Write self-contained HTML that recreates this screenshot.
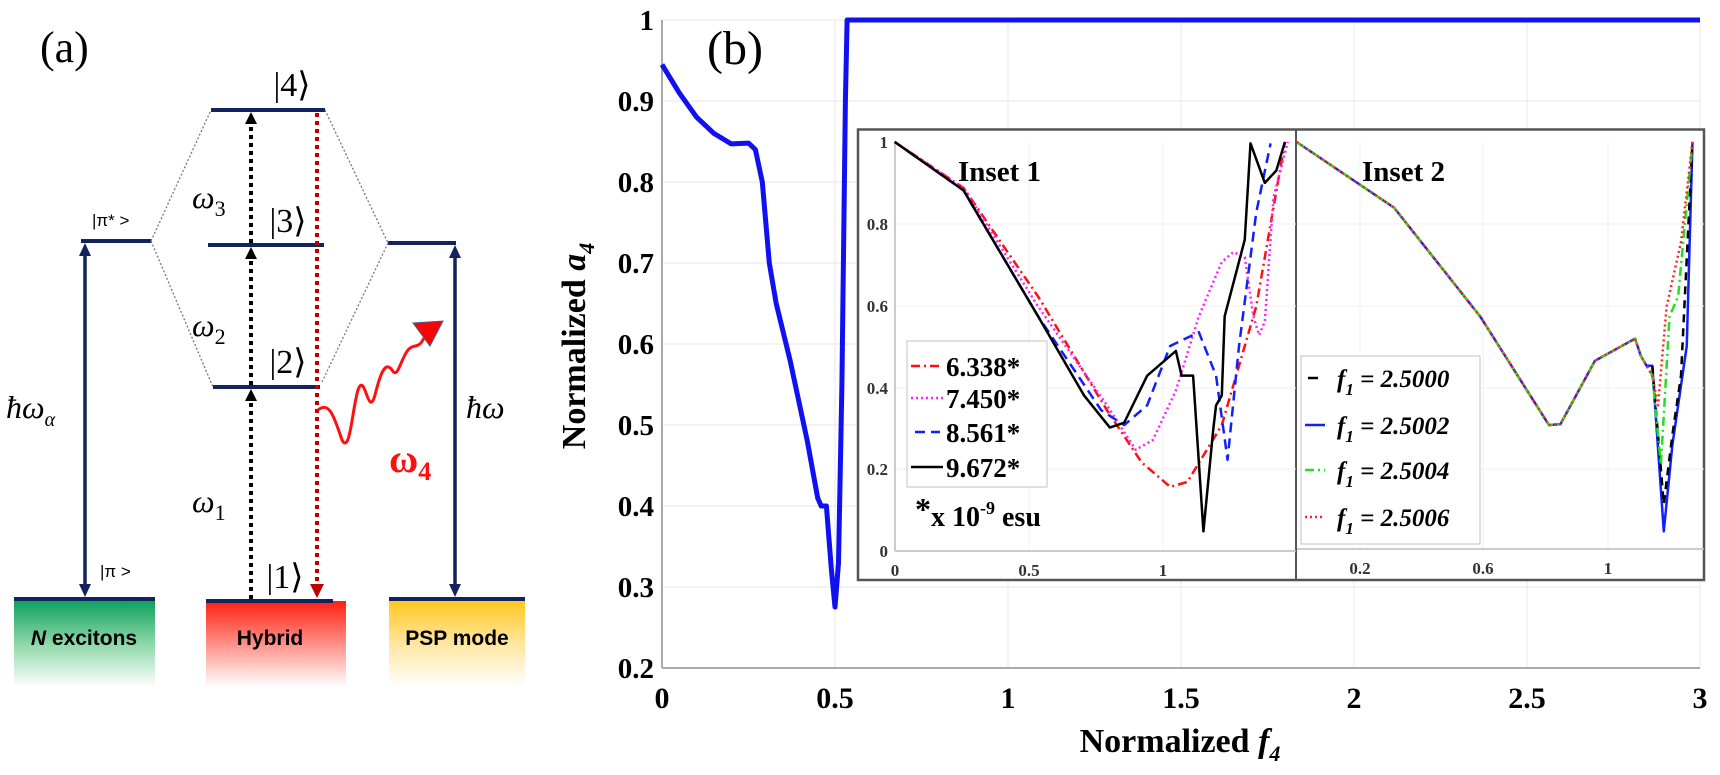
<!DOCTYPE html>
<html><head><meta charset="utf-8"><style>
html,body{margin:0;padding:0;background:#fff;}
svg{display:block;}
.s{font-family:"Liberation Serif",serif;}
.b{font-family:"Liberation Serif",serif;font-weight:bold;}
</style></head><body>
<svg width="1720" height="775" viewBox="0 0 1720 775" xmlns="http://www.w3.org/2000/svg">
<defs>
<linearGradient id="gg" x1="0" y1="0" x2="0" y2="1"><stop offset="0" stop-color="#10a060"/><stop offset="0.5" stop-color="#8ed8a8"/><stop offset="1" stop-color="#fff"/></linearGradient>
<linearGradient id="rg" x1="0" y1="0" x2="0" y2="1"><stop offset="0" stop-color="#ff2010"/><stop offset="0.5" stop-color="#ff9088"/><stop offset="1" stop-color="#fff"/></linearGradient>
<linearGradient id="yg" x1="0" y1="0" x2="0" y2="1"><stop offset="0" stop-color="#ffc820"/><stop offset="0.5" stop-color="#ffe6a0"/><stop offset="1" stop-color="#fff"/></linearGradient>
</defs>

<text x="40" y="62" class="s" font-size="44">(a)</text>
<rect x="14" y="601" width="141" height="86" fill="url(#gg)"/>
<rect x="206" y="601" width="140" height="86" fill="url(#rg)"/>
<rect x="389" y="601" width="136" height="86" fill="url(#yg)"/>
<text x="84" y="645" text-anchor="middle" font-family="Liberation Sans,sans-serif" font-weight="bold" font-size="21"><tspan font-style="italic">N</tspan> excitons</text>
<text x="270" y="645" text-anchor="middle" font-family="Liberation Sans,sans-serif" font-weight="bold" font-size="21">Hybrid</text>
<text x="457" y="645" text-anchor="middle" font-family="Liberation Sans,sans-serif" font-weight="bold" font-size="21">PSP mode</text>

<g stroke="#13235e" stroke-width="4">
<line x1="14" y1="599" x2="155" y2="599"/>
<line x1="206" y1="601" x2="333" y2="601"/>
<line x1="389" y1="599" x2="525" y2="599"/>
<line x1="81" y1="241" x2="151" y2="241"/>
<line x1="388" y1="243" x2="456" y2="243"/>
<line x1="211" y1="110" x2="325" y2="110"/>
<line x1="208" y1="245" x2="324" y2="245"/>
<line x1="213" y1="387" x2="320" y2="387"/>
</g>
<g stroke="#777" stroke-width="1.3" stroke-dasharray="2,2" fill="none">
<line x1="151" y1="241" x2="211" y2="110"/>
<line x1="151" y1="241" x2="213" y2="387"/>
<line x1="325" y1="110" x2="388" y2="243"/>
<line x1="388" y1="243" x2="322" y2="382"/>
</g>
<g stroke="#13235e" stroke-width="3.5" fill="#13235e">
<line x1="85" y1="252" x2="85" y2="588"/>
<line x1="455" y1="254" x2="455" y2="588"/>
</g>
<g fill="#13235e">
<polygon points="85,243 79,256 91,256"/><polygon points="85,597 79,584 91,584"/>
<polygon points="455,245 449,258 461,258"/><polygon points="455,597 449,584 461,584"/>
</g>
<g stroke="#000" stroke-width="4" stroke-dasharray="4,4">
<line x1="251" y1="599" x2="251" y2="400"/>
<line x1="251" y1="385" x2="251" y2="258"/>
<line x1="251" y1="243" x2="251" y2="122"/>
</g>
<g fill="#000">
<polygon points="251,389 245,401 257,401"/><polygon points="251,247 245,259 257,259"/><polygon points="251,112 245,124 257,124"/>
</g>
<line x1="317" y1="113" x2="317" y2="582" stroke="#c00000" stroke-width="4" stroke-dasharray="4,4"/>
<polygon points="317,598 310,584 324,584" fill="#c00000"/>
<path d="M318,410 C330,400 335,420 342,440 C350,455 352,410 358,390 C365,370 368,420 375,395 C380,375 385,360 392,370 C398,380 400,360 408,350 C414,343 418,350 424,338" stroke="#ff1010" stroke-width="3" fill="none"/>
<polygon points="413,323 443,321 430,346" fill="#ff0000" stroke="#4060a0" stroke-width="1"/>
<text x="389" y="472" class="b" font-size="40" fill="#ff1010">ω<tspan font-size="26" dy="8">4</tspan></text>
<g class="s" font-size="34" text-anchor="middle">
<text x="292" y="96">|4⟩</text>
<text x="288" y="232">|3⟩</text>
<text x="288" y="373">|2⟩</text>
<text x="285" y="588">|1⟩</text>
</g>
<g class="s" font-size="32" font-style="italic">
<text x="192" y="208">ω<tspan font-size="22" dy="8" font-style="normal">3</tspan></text>
<text x="192" y="336">ω<tspan font-size="22" dy="8" font-style="normal">2</tspan></text>
<text x="192" y="512">ω<tspan font-size="22" dy="8" font-style="normal">1</tspan></text>
<text x="6" y="418">ħω<tspan font-size="20" dy="8">α</tspan></text>
<text x="466" y="418">ħω</text>
</g>
<text x="92" y="226" font-family="Liberation Sans,sans-serif" font-size="17">|π* &gt;</text>
<text x="100" y="577" font-family="Liberation Sans,sans-serif" font-size="17">|π &gt;</text>

<g stroke="#ececec" stroke-width="1.2">
<line x1="662" y1="101" x2="1700" y2="101"/><line x1="662" y1="182" x2="1700" y2="182"/>
<line x1="662" y1="263" x2="1700" y2="263"/><line x1="662" y1="344" x2="1700" y2="344"/>
<line x1="662" y1="425" x2="1700" y2="425"/><line x1="662" y1="506" x2="1700" y2="506"/>
<line x1="662" y1="587" x2="1700" y2="587"/><line x1="662" y1="20" x2="1700" y2="20"/>
<line x1="835" y1="20" x2="835" y2="668"/><line x1="1008" y1="20" x2="1008" y2="668"/>
<line x1="1181" y1="20" x2="1181" y2="668"/><line x1="1354" y1="20" x2="1354" y2="668"/>
<line x1="1527" y1="20" x2="1527" y2="668"/><line x1="1700" y1="20" x2="1700" y2="668"/>
</g>
<g stroke="#aaa" stroke-width="2"><line x1="662" y1="20" x2="662" y2="668"/><line x1="662" y1="668" x2="1700" y2="668"/></g>
<g class="b" font-size="29" text-anchor="end">
<text x="654" y="30">1</text><text x="654" y="111">0.9</text><text x="654" y="192">0.8</text>
<text x="654" y="273">0.7</text><text x="654" y="354">0.6</text><text x="654" y="435">0.5</text>
<text x="654" y="516">0.4</text><text x="654" y="597">0.3</text><text x="654" y="678">0.2</text>
</g>
<g class="b" font-size="30" text-anchor="middle">
<text x="662" y="708">0</text><text x="835" y="708">0.5</text><text x="1008" y="708">1</text>
<text x="1181" y="708">1.5</text><text x="1354" y="708">2</text><text x="1527" y="708">2.5</text><text x="1700" y="708">3</text>
</g>
<text x="1180" y="752" class="b" font-size="34" text-anchor="middle">Normalized <tspan font-style="italic">f</tspan><tspan font-style="italic" font-size="22" dy="9">4</tspan></text>
<text transform="translate(585,346) rotate(-90)" class="b" font-size="34" text-anchor="middle">Normalized <tspan font-style="italic">a</tspan><tspan font-style="italic" font-size="22" dy="9">4</tspan></text>
<text x="707" y="64" class="s" font-size="48">(b)</text>
<polyline fill="none" stroke="#1010f0" stroke-width="5" stroke-linejoin="round" points="662,64.6 679.3,92.9 696.6,117.2 713.9,133.4 731.2,143.9 748.5,143.1 755.4,149.6 762.3,182 769.3,263 776.2,303.5 790,360 807.3,441 817.7,498 821.2,506 826.4,506 831.5,571 835,607 838.5,563 841.9,385 845.4,101 847.1,20 1700,20"/>

<rect x="858" y="129.5" width="846" height="450.5" fill="#fff" stroke="#555" stroke-width="2.5"/>
<line x1="1296" y1="129.5" x2="1296" y2="580" stroke="#555" stroke-width="2"/>
<g stroke="#f0f0f0" stroke-width="1">
<line x1="895" y1="224" x2="1296" y2="224"/><line x1="895" y1="306" x2="1296" y2="306"/>
<line x1="895" y1="388" x2="1296" y2="388"/><line x1="895" y1="469" x2="1296" y2="469"/>
<line x1="1029" y1="142" x2="1029" y2="551"/><line x1="1163" y1="142" x2="1163" y2="551"/>
<line x1="1297" y1="224" x2="1704" y2="224"/><line x1="1297" y1="306" x2="1704" y2="306"/>
<line x1="1297" y1="388" x2="1704" y2="388"/><line x1="1297" y1="469" x2="1704" y2="469"/>
<line x1="1360" y1="142" x2="1360" y2="551"/><line x1="1483" y1="142" x2="1483" y2="551"/><line x1="1608" y1="142" x2="1608" y2="551"/>
</g>
<g stroke="#bbb" stroke-width="1.5"><line x1="895" y1="142" x2="895" y2="551"/><line x1="895" y1="551" x2="1296" y2="551"/><line x1="1297" y1="549" x2="1704" y2="549"/></g>
<g class="b" font-size="17" text-anchor="end" fill="#333">
<text x="888" y="148">1</text><text x="888" y="230">0.8</text><text x="888" y="312">0.6</text>
<text x="888" y="394">0.4</text><text x="888" y="475">0.2</text><text x="888" y="557">0</text>
</g>
<g class="b" font-size="17" text-anchor="middle" fill="#333">
<text x="895" y="576">0</text><text x="1029" y="576">0.5</text><text x="1163" y="576">1</text>
<text x="1360" y="574">0.2</text><text x="1483" y="574">0.6</text><text x="1608" y="574">1</text>
</g>
<text x="958" y="181" class="b" font-size="29">Inset 1</text>
<text x="1362" y="181" class="b" font-size="29">Inset 2</text>

<g transform="translate(820,0) scale(0.574,0.4943)" fill="none" stroke-width="2.5" stroke-linejoin="round">
<polyline vector-effect="non-scaling-stroke" stroke="#ff1010" stroke-dasharray="9,4,2,4" points="130,287 250,380 380,600 500,830 560,935 610,985 640,975 700,860 760,620 810,287"/>
<polyline vector-effect="non-scaling-stroke" stroke="#ff20ff" stroke-dasharray="2,3" points="130,287 250,380 380,620 500,820 550,910 580,890 620,790 660,640 700,530 720,510 740,520 755,640 765,678 775,650 790,400 815,287"/>
<polyline vector-effect="non-scaling-stroke" stroke="#1020ff" stroke-dasharray="10,6" points="130,287 250,385 380,640 490,830 530,860 570,820 610,700 660,672 690,760 710,930 730,700 760,430 785,290"/>
<polyline vector-effect="non-scaling-stroke" stroke="#000" points="130,287 250,385 380,640 460,800 505,865 530,855 570,760 620,710 630,760 650,760 668,1075 685,870 690,820 700,800 705,640 740,485 750,290 775,370 795,345 810,287"/>
<polyline vector-effect="non-scaling-stroke" stroke="#1020ff" points="830,287 1000,420 1150,640 1270,860 1290,858 1350,730 1420,685 1430,720 1440,740 1450,740 1470,1075 1485,900 1500,780 1510,700 1520,287"/>
<polyline vector-effect="non-scaling-stroke" stroke="#000" stroke-dasharray="8,6" points="1450,740 1470,1020 1485,880 1500,760 1520,287"/>
<polyline vector-effect="non-scaling-stroke" stroke="#20e020" stroke-dasharray="9,4,2,4" points="830,287 1000,420 1150,640 1270,860 1290,858 1350,730 1420,685 1430,720 1450,760 1465,940 1480,640 1495,600 1520,287"/>
<polyline vector-effect="non-scaling-stroke" stroke="#ff2020" stroke-dasharray="2,3" points="830,287 1000,420 1150,640 1270,860 1290,858 1350,730 1420,685 1430,720 1450,760 1460,820 1475,620 1500,490 1520,287"/>
</g>

<rect x="907" y="341" width="140" height="146" fill="#fff" stroke="#ccc" stroke-width="1.2"/>
<g stroke-width="2.5">
<line x1="911" y1="366" x2="943" y2="366" stroke="#ff1010" stroke-dasharray="9,4,2,4"/>
<line x1="911" y1="398" x2="943" y2="398" stroke="#ff20ff" stroke-dasharray="2,3"/>
<line x1="915" y1="432" x2="940" y2="432" stroke="#1020ff" stroke-dasharray="10,6"/>
<line x1="911" y1="467" x2="943" y2="467" stroke="#000"/>
</g>
<g class="b" font-size="27">
<text x="946" y="376">6.338*</text><text x="946" y="408">7.450*</text>
<text x="946" y="442">8.561*</text><text x="946" y="477">9.672*</text>
</g>
<text x="915" y="526" class="b" font-size="28"><tspan font-size="32" dy="-6">*</tspan><tspan dy="6">x 10</tspan><tspan font-size="18" dy="-12">-9</tspan><tspan dy="12"> esu</tspan></text>
<rect x="1301" y="356" width="179" height="188" fill="#fff" stroke="#ccc" stroke-width="1.2"/>
<g stroke-width="2.5">
<line x1="1308" y1="378" x2="1318" y2="378" stroke="#000"/>
<line x1="1305" y1="425" x2="1325" y2="425" stroke="#1020ff"/>
<line x1="1305" y1="470" x2="1325" y2="470" stroke="#20e020" stroke-dasharray="9,4,2,4"/>
<line x1="1305" y1="517" x2="1325" y2="517" stroke="#ff2020" stroke-dasharray="2,3"/>
</g>
<g class="b" font-size="25" font-style="italic">
<text x="1337" y="387">f<tspan font-size="17" dy="8">1</tspan><tspan dy="-8"> = 2.5000</tspan></text>
<text x="1337" y="434">f<tspan font-size="17" dy="8">1</tspan><tspan dy="-8"> = 2.5002</tspan></text>
<text x="1337" y="479">f<tspan font-size="17" dy="8">1</tspan><tspan dy="-8"> = 2.5004</tspan></text>
<text x="1337" y="526">f<tspan font-size="17" dy="8">1</tspan><tspan dy="-8"> = 2.5006</tspan></text>
</g>
</svg>
</body></html>
